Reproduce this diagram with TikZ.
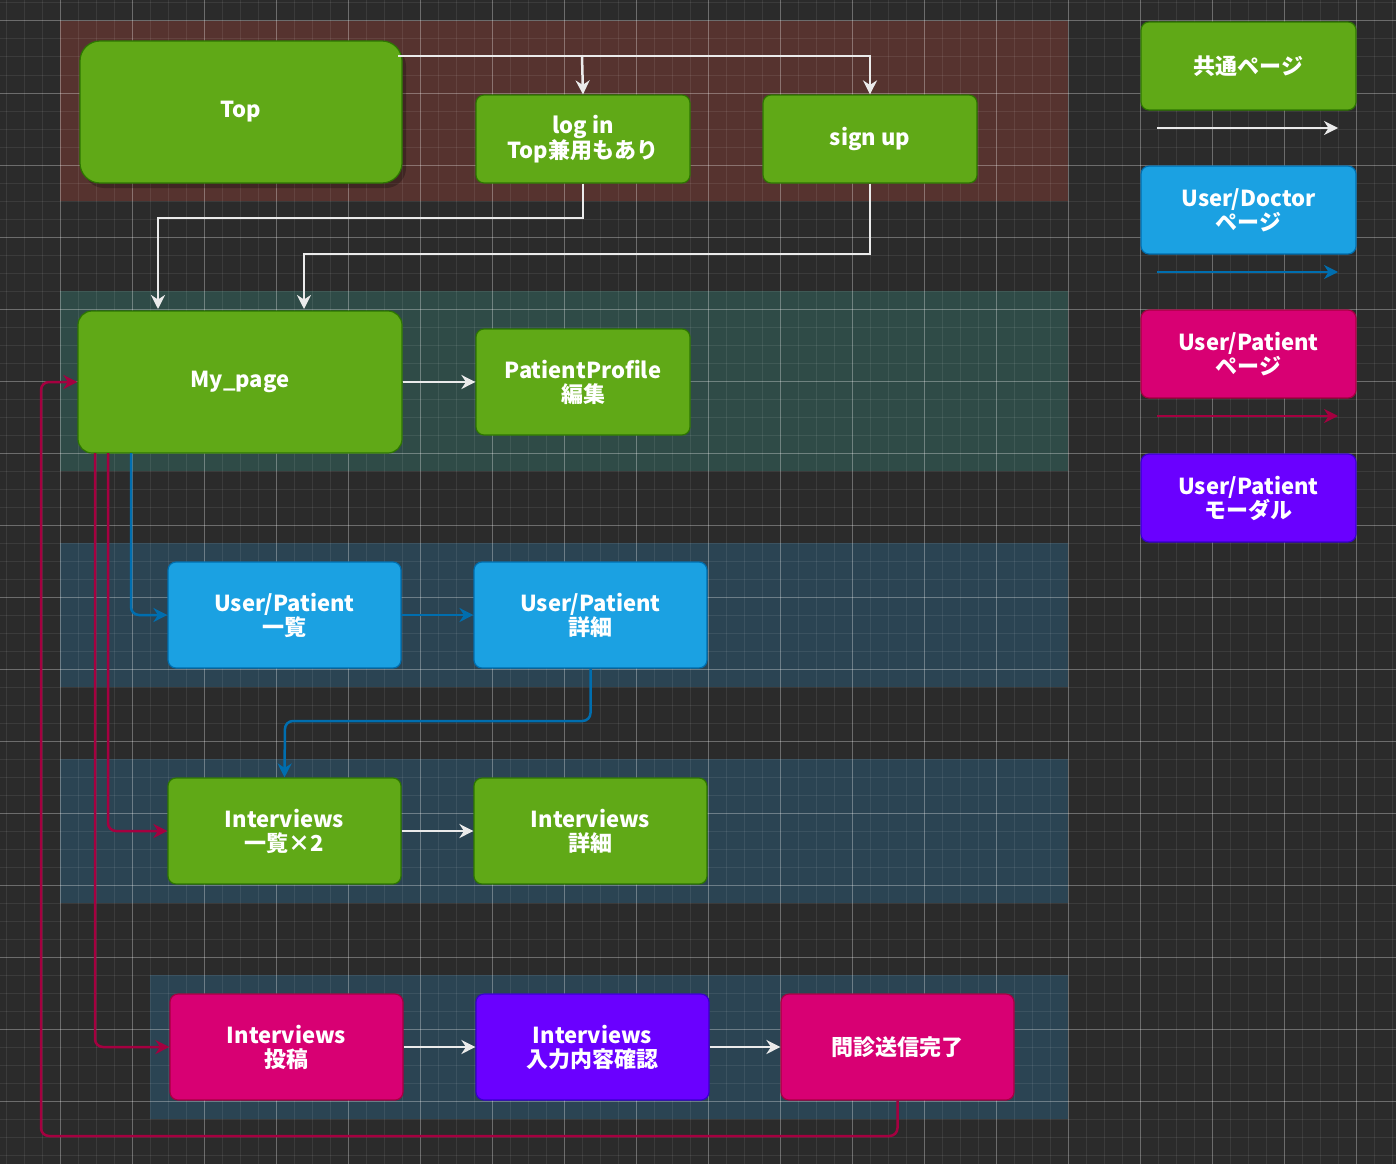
\documentclass[tikz,border=0pt]{standalone}
\usepackage{fontspec}
\setmainfont{Noto Sans CJK JP}
\usetikzlibrary{arrows.meta}
\definecolor{bg}{HTML}{2B2B2B}
\definecolor{gmin}{HTML}{3A3A3A}
\definecolor{gmaj}{HTML}{5C5C5C}
\definecolor{gfill}{HTML}{60A917}\definecolor{gline}{HTML}{2D7600}
\definecolor{bfill}{HTML}{1BA1E2}\definecolor{bline}{HTML}{006EAF}
\definecolor{mfill}{HTML}{D80073}\definecolor{mline}{HTML}{A50040}
\definecolor{pfill}{HTML}{6A00FF}\definecolor{pline}{HTML}{3700CC}
\definecolor{redbg}{HTML}{56332F}\definecolor{tealbg}{HTML}{2F4B47}\definecolor{bluebg}{HTML}{2B4453}
\begin{document}
\begin{tikzpicture}[x=1pt,y=-1pt,
 box/.style={rounded corners=8pt,line width=1.2pt,text=white,font=\fontsize{22}{24}\selectfont\bfseries,align=center,inner sep=0pt},
 g/.style={box,fill=gfill,draw=gline},
 b/.style={box,fill=bfill,draw=bline},
 m/.style={box,fill=mfill,draw=mline},
 p/.style={box,fill=pfill,draw=pline},
 wa/.style={draw=white!92!black,line width=2.5pt,-{Stealth[length=14pt,width=14pt]}},
 ba/.style={draw=bline,line width=2.5pt,rounded corners=8pt,-{Stealth[length=14pt,width=14pt]}},
 ma/.style={draw=mline,line width=2.5pt,rounded corners=8pt,-{Stealth[length=14pt,width=14pt]}}]
\useasboundingbox (0,0) rectangle (1396,1164);
\fill[bg] (0,0) rectangle (1396,1164);
\fill[redbg] (60,21) rectangle (1068,201);
\fill[tealbg] (60,291) rectangle (1068,471);
\fill[bluebg] (60,543) rectangle (1068,687);
\fill[bluebg] (60,759) rectangle (1068,903);
\fill[bluebg] (150,975) rectangle (1068,1119);
\foreach \x in {6,24,...,1396} \draw[white,opacity=0.08,line width=1pt] (\x,0) -- (\x,1164);
\foreach \y in {3,21,...,1164} \draw[white,opacity=0.08,line width=1pt] (0,\y) -- (1396,\y);
\foreach \x in {60,132,...,1396} \draw[white,opacity=0.25,line width=1pt] (\x,0) -- (\x,1164);
\foreach \y in {21,93,...,1164} \draw[white,opacity=0.25,line width=1pt] (0,\y) -- (1396,\y);
% nodes
\fill[black,opacity=0.25,rounded corners=20pt] (84,46) rectangle (406,188);
\node[g,rounded corners=20pt,minimum width=322pt,minimum height=142pt] (top) at (241,112) {Top};
\node[g,minimum width=214pt,minimum height=88pt] (login) at (583,139) {log in\\Top兼用もあり};
\node[g,minimum width=214pt,minimum height=88pt] (signup) at (870,139) {sign up};
\node[g,rounded corners=14pt,minimum width=324pt,minimum height=142pt] (my) at (240,382) {My\_page};
\node[g,minimum width=214pt,minimum height=106pt] (pp) at (583,382) {PatientProfile\\編集};
\node[b,minimum width=233pt,minimum height=106pt] (upl) at (284.5,615) {User/Patient\\一覧};
\node[b,minimum width=233pt,minimum height=106pt] (upd) at (590.5,615) {User/Patient\\詳細};
\node[g,minimum width=233pt,minimum height=106pt] (il) at (284.5,831) {Interviews\\一覧×2};
\node[g,minimum width=233pt,minimum height=106pt] (id) at (590.5,831) {Interviews\\詳細};
\node[m,minimum width=233pt,minimum height=106pt] (ip) at (286.5,1047) {Interviews\\投稿};
\node[p,minimum width=233pt,minimum height=106pt] (ic) at (592.5,1047) {Interviews\\入力内容確認};
\node[m,minimum width=233pt,minimum height=106pt] (done) at (897.5,1047) {問診送信完了};
% legend
\node[g,minimum width=215pt,minimum height=88pt] (l1) at (1248.5,66) {共通ページ};
\node[b,minimum width=215pt,minimum height=88pt] (l2) at (1248.5,210) {User/Doctor\\ページ};
\node[m,minimum width=215pt,minimum height=88pt] (l3) at (1248.5,354) {User/Patient\\ページ};
\node[p,minimum width=215pt,minimum height=88pt] (l4) at (1248.5,498) {User/Patient\\モーダル};
\coordinate (w1a) at (1157,128); \coordinate (w1b) at (1338,128);
\coordinate (w2a) at (1157,272); \coordinate (w2b) at (1338,272);
\coordinate (w3a) at (1157,416); \coordinate (w3b) at (1338,416);
\draw[wa] (w1a) -- (w1b);
\draw[ba] (w2a) -- (w2b);
\draw[ma] (w3a) -- (w3b);
% connectors
\coordinate (t0) at (398,56);
\draw[wa] (t0) -| (signup.north);
\draw[wa] (582,56) -- (login.north);
\draw[wa] (login.south) |- (158,218) -- (158,309);
\draw[wa] (signup.south) |- (304,254) -- (304,309);
\draw[wa] (my.east) -- (pp.west);
\draw[ba] (131,453) |- (upl.west);
\draw[ba] (upl.east) -- (upd.west);
\draw[ba] (upd.south) |- (285,721) -- (il.north);
\draw[ma] (108,453) |- (il.west);
\draw[wa] (il.east) -- (id.west);
\draw[ma] (95,453) |- (ip.west);
\draw[wa] (ip.east) -- (ic.west);
\draw[wa] (ic.east) -- (done.west);
\draw[ma] (done.south) |- (41,1136) |- (my.west);
\end{tikzpicture}
\end{document}
